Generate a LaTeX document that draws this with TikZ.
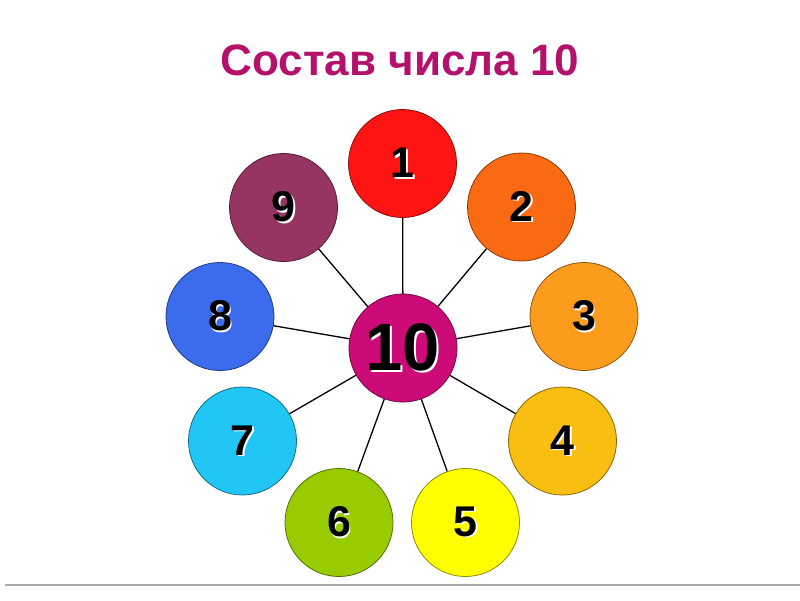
\documentclass[tikz,border=0pt]{standalone}
\usepackage{fontspec}
\setmainfont{Liberation Sans}
\definecolor{titlecol}{HTML}{B3116B}
\definecolor{c1}{HTML}{FF1414}
\definecolor{c2}{HTML}{FA6A12}
\definecolor{c3}{HTML}{FB9C1C}
\definecolor{c4}{HTML}{F8BE12}
\definecolor{c5}{HTML}{FFFF00}
\definecolor{c6}{HTML}{99CC00}
\definecolor{c7}{HTML}{22C6F4}
\definecolor{c8}{HTML}{3C6CEE}
\definecolor{c9}{HTML}{963564}
\definecolor{c10}{HTML}{CC0A78}
\definecolor{linegray}{HTML}{A8A8A8}
\newcommand{\shadowed}[2]{\makebox[0pt][l]{\hspace*{#1}\raisebox{-#1}{\textcolor{white}{#2}}}#2}
\tikzset{
  petal/.style={circle, minimum size=108pt, inner sep=0pt, line width=0.8pt, draw=#1!55!black, fill=#1},
  core/.style={circle, minimum size=108pt, inner sep=0pt, line width=0.8pt, draw=#1!55!black, fill=#1},
  spoke/.style={draw=black, line width=1.3pt},
  numtxt/.style={font=\fontsize{43}{43}\selectfont\bfseries, text=black},
  bignum/.style={font=\fontsize{67}{67}\selectfont\bfseries, text=black},
}
\begin{document}
\begin{tikzpicture}[x=1pt,y=-1pt]
\useasboundingbox (0,0) rectangle (800,600);
\fill[white] (0,0) rectangle (800,600);
% title
\node[font=\fontsize{44}{44}\selectfont\bfseries, text=titlecol] (title) at (400,60) {Состав числа 10};
% positions
\coordinate (p10) at (403,348);
\coordinate (p1) at (402.5,163.5);
\coordinate (p2) at (521.5,207);
\coordinate (p3) at (584,316.5);
\coordinate (p4) at (562.5,441);
\coordinate (p5) at (465.5,522.5);
\coordinate (p6) at (339,522.5);
\coordinate (p7) at (242.5,441);
\coordinate (p8) at (220,316.5);
\coordinate (p9) at (283.5,207.5);
% spokes
\foreach \i in {1,...,9} {
  \draw[spoke] (p10) -- (p\i);
}
% petals
\foreach \i in {1,...,9} {
  \node[petal=c\i, numtxt] (n\i) at (p\i) {\shadowed{1.6pt}{\i}};
}
\node[core=c10, bignum] (n10) at (p10) {\shadowed{2pt}{10}};
% bottom line
\coordinate (la) at (5,585);
\coordinate (lb) at (800,585);
\draw[linegray, line width=2pt] (la) -- (lb);
\end{tikzpicture}
\end{document}
